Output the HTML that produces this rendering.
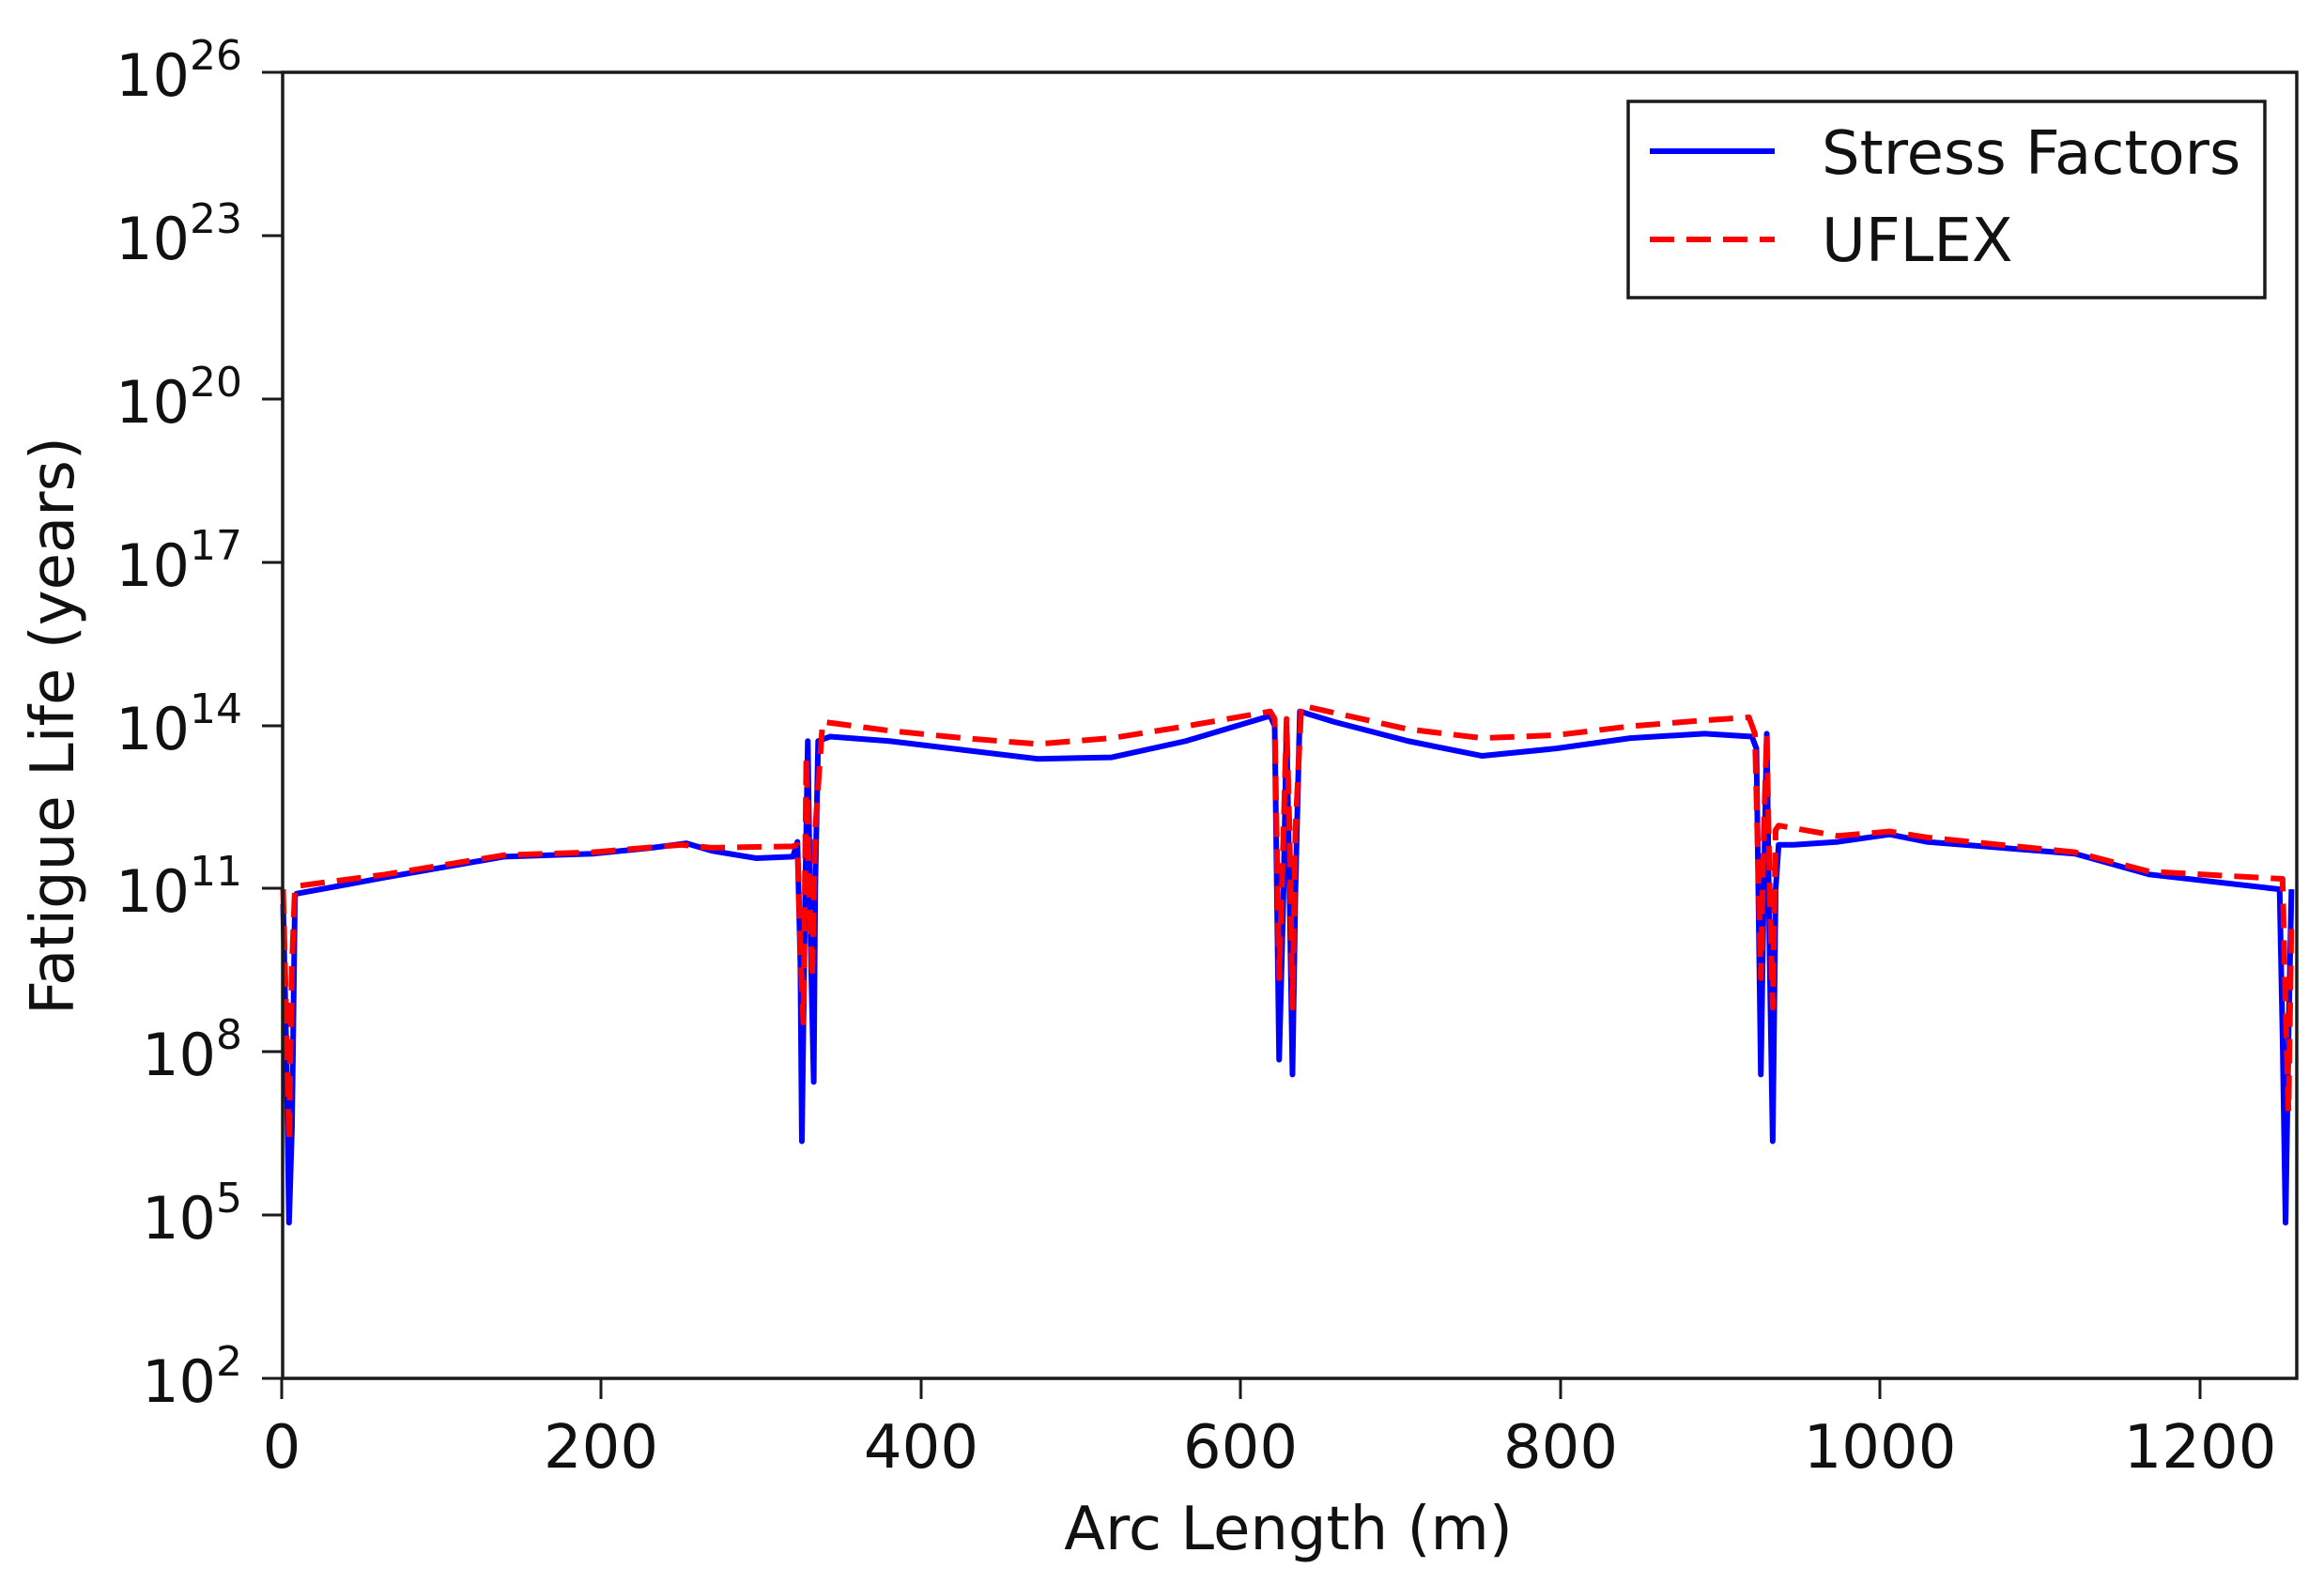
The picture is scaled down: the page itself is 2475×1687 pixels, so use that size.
<!DOCTYPE html>
<html><head><meta charset="utf-8"><style>
html,body{margin:0;padding:0;background:#fff;}
svg{display:block;font-family:"DejaVu Sans","Liberation Sans",sans-serif;}
</style></head><body>
<svg width="2475" height="1687" viewBox="0 0 2475 1687" xmlns="http://www.w3.org/2000/svg">
<rect width="2475" height="1687" fill="#fff"/>
<g transform="scale(1.5785)" fill="none" stroke-linejoin="round">
<path vector-effect="non-scaling-stroke" stroke="#0000ff" stroke-width="6" d="M191,610 L193,700 L195,825 L197,760 L199,605 L200,603 L260,592 L340,578 L400,576 L440,572 L463,569 L480,574 L510,579 L535,578 L538,568 L540,650 L541,770 L543,620 L545,500 L547,640 L549,730 L550,600 L552,500 L560,497 L600,500 L650,506 L700,512 L750,511 L800,500 L857,483 L860,490 L863,715 L866,600 L868,490 L870,600 L872,725 L874,600 L877,480 L900,487 L950,500 L1000,510 L1050,505 L1100,498 L1150,495 L1182,497 L1185,505 L1188,725 L1190,600 L1192,495 L1194,650 L1196,770 L1198,600 L1200,570 L1210,570 L1240,568 L1275,563 L1300,568 L1350,572 L1400,576 L1450,590 L1538,600 L1540,700 L1542,825 L1544,700 L1546,600"/>
<path vector-effect="non-scaling-stroke" stroke="#ff0000" stroke-width="6" stroke-dasharray="26,13" d="M191,600 L193,680 L195,770 L197,650 L199,598 L260,590 L340,577 L400,575 L460,570 L480,572 L535,571 L538,570 L540,640 L542,690 L544,510 L546,600 L548,660 L550,560 L555,487 L600,493 L650,498 L700,502 L750,498 L800,490 L857,480 L860,485 L863,660 L866,560 L868,485 L870,560 L872,680 L874,560 L878,476 L950,492 L1000,498 L1050,496 L1100,490 L1150,486 L1180,484 L1184,495 L1188,660 L1190,560 L1192,495 L1194,600 L1196,680 L1198,560 L1200,557 L1240,564 L1275,561 L1300,565 L1400,575 L1450,588 L1540,593 L1542,680 L1544,750 L1546,620"/>
</g>
<rect x="301" y="77" width="2145" height="1391" fill="none" stroke="#1a1a1a" stroke-width="3.5"/>
<g stroke="#1a1a1a" stroke-width="3">
<line x1="279" y1="77" x2="301" y2="77"/><line x1="279" y1="251" x2="301" y2="251"/><line x1="279" y1="425" x2="301" y2="425"/><line x1="279" y1="599" x2="301" y2="599"/><line x1="279" y1="773" x2="301" y2="773"/><line x1="279" y1="946" x2="301" y2="946"/><line x1="279" y1="1120" x2="301" y2="1120"/><line x1="279" y1="1294" x2="301" y2="1294"/><line x1="279" y1="1468" x2="301" y2="1468"/>
<line x1="300" y1="1468" x2="300" y2="1490"/><line x1="640" y1="1468" x2="640" y2="1490"/><line x1="981" y1="1468" x2="981" y2="1490"/><line x1="1321" y1="1468" x2="1321" y2="1490"/><line x1="1662" y1="1468" x2="1662" y2="1490"/><line x1="2002" y1="1468" x2="2002" y2="1490"/><line x1="2343" y1="1468" x2="2343" y2="1490"/>
</g>
<g font-size="62" fill="#111" text-anchor="end">
<text x="258" y="102">10<tspan font-size="44" dy="-28">26</tspan></text>
<text x="258" y="276">10<tspan font-size="44" dy="-28">23</tspan></text>
<text x="258" y="450">10<tspan font-size="44" dy="-28">20</tspan></text>
<text x="258" y="624">10<tspan font-size="44" dy="-28">17</tspan></text>
<text x="258" y="798">10<tspan font-size="44" dy="-28">14</tspan></text>
<text x="258" y="971">10<tspan font-size="44" dy="-28">11</tspan></text>
<text x="258" y="1145">10<tspan font-size="44" dy="-28">8</tspan></text>
<text x="258" y="1319">10<tspan font-size="44" dy="-28">5</tspan></text>
<text x="258" y="1493">10<tspan font-size="44" dy="-28">2</tspan></text>
</g>
<g font-size="64" fill="#111" text-anchor="middle">
<text x="300" y="1563">0</text><text x="640" y="1563">200</text><text x="981" y="1563">400</text><text x="1321" y="1563">600</text><text x="1662" y="1563">800</text><text x="2002" y="1563">1000</text><text x="2343" y="1563">1200</text>
<text x="1372" y="1650">Arc Length (m)</text>
<text transform="translate(78,773) rotate(-90)">Fatigue Life (years)</text>
</g>
<rect x="1734" y="108" width="678" height="209" fill="#fff" stroke="#1a1a1a" stroke-width="3.5"/>
<line x1="1757" y1="161" x2="1890" y2="161" stroke="#0000ff" stroke-width="6"/>
<line x1="1757" y1="255" x2="1890" y2="255" stroke="#ff0000" stroke-width="6" stroke-dasharray="26,13"/>
<g font-size="64" fill="#111">
<text x="1940" y="185">Stress Factors</text>
<text x="1940" y="278">UFLEX</text>
</g>
</svg>
</body></html>
